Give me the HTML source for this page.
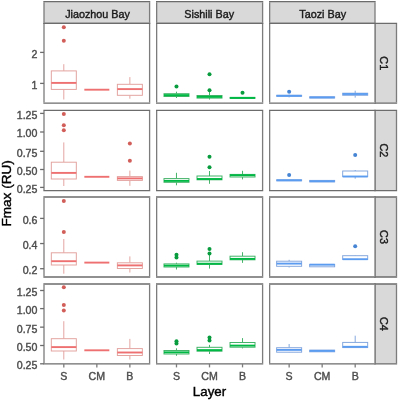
<!DOCTYPE html><html><head><meta charset="utf-8"><style>html,body{margin:0;padding:0;background:#fff;}svg{display:block;filter:blur(0.3px);}text{font-family:"Liberation Sans",sans-serif;stroke-width:0.4px;}</style></head><body>
<svg width="398" height="400" viewBox="0 0 398 400">
<rect width="398" height="400" fill="#fff"/>
<rect x="44" y="1.7" width="105.6" height="21.6" fill="#D9D9D9"/><path d="M43.35 1.7H150.25M43.35 23.3H150.25" stroke="#6c6c6c" stroke-width="1.3" fill="none"/><path d="M44 2.35V22.65M149.6 2.35V22.65" stroke="#7c7c7c" stroke-width="1.3" fill="none"/>
<rect x="156.65" y="1.7" width="105.95" height="21.6" fill="#D9D9D9"/><path d="M156 1.7H263.25M156 23.3H263.25" stroke="#6c6c6c" stroke-width="1.3" fill="none"/><path d="M156.65 2.35V22.65M262.6 2.35V22.65" stroke="#7c7c7c" stroke-width="1.3" fill="none"/>
<rect x="269.65" y="1.7" width="105.35" height="21.6" fill="#D9D9D9"/><path d="M269 1.7H375.65M269 23.3H375.65" stroke="#6c6c6c" stroke-width="1.3" fill="none"/><path d="M269.65 2.35V22.65M375 2.35V22.65" stroke="#7c7c7c" stroke-width="1.3" fill="none"/>
<text x="97.54" y="18.0" font-size="10.8" fill="#1A1A1A" stroke="#1A1A1A" text-anchor="middle">Jiaozhou Bay</text>
<text x="209.2" y="18.0" font-size="10.8" fill="#1A1A1A" stroke="#1A1A1A" text-anchor="middle">Sishili Bay</text>
<text x="322.66" y="18.0" font-size="10.8" fill="#1A1A1A" stroke="#1A1A1A" text-anchor="middle">Taozi Bay</text>
<rect x="375" y="23.3" width="21.5" height="79.9" fill="#D9D9D9"/><path d="M374.35 23.3H397.15M374.35 103.2H397.15" stroke="#6c6c6c" stroke-width="1.3" fill="none"/><path d="M375 23.95V102.55M396.5 23.95V102.55" stroke="#7c7c7c" stroke-width="1.3" fill="none"/>
<text transform="translate(380.0,63.25) rotate(90)" x="0" y="0" font-size="10.8" fill="#1A1A1A" stroke="#1A1A1A" text-anchor="middle">C1</text>
<rect x="375" y="110.35" width="21.5" height="80.2" fill="#D9D9D9"/><path d="M374.35 110.35H397.15M374.35 190.55H397.15" stroke="#6c6c6c" stroke-width="1.3" fill="none"/><path d="M375 111V189.9M396.5 111V189.9" stroke="#7c7c7c" stroke-width="1.3" fill="none"/>
<text transform="translate(380.0,150.45) rotate(90)" x="0" y="0" font-size="10.8" fill="#1A1A1A" stroke="#1A1A1A" text-anchor="middle">C2</text>
<rect x="375" y="197" width="21.5" height="80" fill="#D9D9D9"/><path d="M374.35 197H397.15M374.35 277H397.15" stroke="#6c6c6c" stroke-width="1.3" fill="none"/><path d="M375 197.65V276.35M396.5 197.65V276.35" stroke="#7c7c7c" stroke-width="1.3" fill="none"/>
<text transform="translate(380.0,237) rotate(90)" x="0" y="0" font-size="10.8" fill="#1A1A1A" stroke="#1A1A1A" text-anchor="middle">C3</text>
<rect x="375" y="284" width="21.5" height="79.9" fill="#D9D9D9"/><path d="M374.35 284H397.15M374.35 363.9H397.15" stroke="#6c6c6c" stroke-width="1.3" fill="none"/><path d="M375 284.65V363.25M396.5 284.65V363.25" stroke="#7c7c7c" stroke-width="1.3" fill="none"/>
<text transform="translate(380.0,323.95) rotate(90)" x="0" y="0" font-size="10.8" fill="#1A1A1A" stroke="#1A1A1A" text-anchor="middle">C4</text>
<rect x="44" y="23.3" width="105.6" height="79.9" fill="#fff"/>
<g stroke="#E2A09C" stroke-width="0.95" fill="none"><line x1="63.81" y1="64.2" x2="63.81" y2="70.9"/><line x1="63.81" y1="89.4" x2="63.81" y2="99.5"/><rect x="51.31" y="70.9" width="25" height="18.5" fill="#fff"/></g>
<line x1="51.31" y1="82.9" x2="76.31" y2="82.9" stroke="#EE7070" stroke-width="1.9"/>
<circle cx="63.81" cy="27.2" r="2.0" fill="#D25E5A"/>
<circle cx="63.81" cy="40.8" r="2.0" fill="#D25E5A"/>
<g stroke="#E2A09C" stroke-width="0.95" fill="none"></g>
<line x1="84.34" y1="89.7" x2="109.34" y2="89.7" stroke="#EE7070" stroke-width="1.9"/>
<g stroke="#E2A09C" stroke-width="0.95" fill="none"><line x1="129.86" y1="77.1" x2="129.86" y2="84.3"/><line x1="129.86" y1="95.3" x2="129.86" y2="98.7"/><rect x="117.36" y="84.3" width="25" height="11" fill="#fff"/></g>
<line x1="117.36" y1="89.1" x2="142.36" y2="89.1" stroke="#EE7070" stroke-width="1.9"/>
<path d="M43.35 23.3H150.25M43.35 103.2H150.25" stroke="#6c6c6c" stroke-width="1.3" fill="none"/><path d="M44 23.95V102.55M149.6 23.95V102.55" stroke="#7c7c7c" stroke-width="1.3" fill="none"/>
<rect x="156.65" y="23.3" width="105.95" height="79.9" fill="#fff"/>
<g stroke="#3CB062" stroke-width="0.95" fill="none"><line x1="176.48" y1="91.7" x2="176.48" y2="93.7"/><line x1="176.48" y1="96.5" x2="176.48" y2="98"/><rect x="163.98" y="93.7" width="25" height="2.8" fill="#fff"/></g>
<line x1="163.98" y1="95.1" x2="188.98" y2="95.1" stroke="#00B844" stroke-width="1.9"/>
<circle cx="176.48" cy="86.6" r="2.0" fill="#089C3E"/>
<g stroke="#3CB062" stroke-width="0.95" fill="none"><line x1="209.5" y1="91.9" x2="209.5" y2="95.5"/><line x1="209.5" y1="98.1" x2="209.5" y2="99.5"/><rect x="197" y="95.5" width="25" height="2.6" fill="#fff"/></g>
<line x1="197" y1="96.9" x2="222" y2="96.9" stroke="#00B844" stroke-width="1.9"/>
<circle cx="209.5" cy="74.3" r="2.0" fill="#089C3E"/>
<circle cx="209.5" cy="90.3" r="2.0" fill="#089C3E"/>
<g stroke="#3CB062" stroke-width="0.95" fill="none"><rect x="230.03" y="97.4" width="25" height="1" fill="#fff"/></g>
<line x1="230.03" y1="97.9" x2="255.03" y2="97.9" stroke="#00B844" stroke-width="1.9"/>
<circle cx="242.53" cy="92.7" r="2.0" fill="#089C3E"/>
<path d="M156 23.3H263.25M156 103.2H263.25" stroke="#6c6c6c" stroke-width="1.3" fill="none"/><path d="M156.65 23.95V102.55M262.6 23.95V102.55" stroke="#7c7c7c" stroke-width="1.3" fill="none"/>
<rect x="269.65" y="23.3" width="105.35" height="79.9" fill="#fff"/>
<g stroke="#80A4DC" stroke-width="0.95" fill="none"><line x1="289.14" y1="94.6" x2="289.14" y2="95.3"/><line x1="289.14" y1="96.3" x2="289.14" y2="97.4"/><rect x="276.64" y="95.3" width="25" height="1" fill="#fff"/></g>
<line x1="276.64" y1="95.8" x2="301.64" y2="95.8" stroke="#5C9CF0" stroke-width="1.9"/>
<circle cx="289.14" cy="91.8" r="2.0" fill="#4684D4"/>
<g stroke="#80A4DC" stroke-width="0.95" fill="none"><rect x="309.66" y="96.8" width="25" height="1.2" fill="#fff"/></g>
<line x1="309.66" y1="97.4" x2="334.66" y2="97.4" stroke="#5C9CF0" stroke-width="1.9"/>
<g stroke="#80A4DC" stroke-width="0.95" fill="none"><line x1="355.19" y1="90.7" x2="355.19" y2="93.2"/><line x1="355.19" y1="95.3" x2="355.19" y2="97.6"/><rect x="342.69" y="93.2" width="25" height="2.1" fill="#fff"/></g>
<line x1="342.69" y1="94" x2="367.69" y2="94" stroke="#5C9CF0" stroke-width="1.9"/>
<path d="M269 23.3H375.65M269 103.2H375.65" stroke="#6c6c6c" stroke-width="1.3" fill="none"/><path d="M269.65 23.95V102.55M375 23.95V102.55" stroke="#7c7c7c" stroke-width="1.3" fill="none"/>
<rect x="44" y="110.35" width="105.6" height="80.2" fill="#fff"/>
<g stroke="#E2A09C" stroke-width="0.95" fill="none"><line x1="63.81" y1="142.4" x2="63.81" y2="162.2"/><line x1="63.81" y1="179" x2="63.81" y2="186"/><rect x="51.31" y="162.2" width="25" height="16.8" fill="#fff"/></g>
<line x1="51.31" y1="172.9" x2="76.31" y2="172.9" stroke="#EE7070" stroke-width="1.9"/>
<circle cx="63.81" cy="114" r="2.0" fill="#D25E5A"/>
<circle cx="63.81" cy="125.3" r="2.0" fill="#D25E5A"/>
<circle cx="63.81" cy="130.3" r="2.0" fill="#D25E5A"/>
<g stroke="#E2A09C" stroke-width="0.95" fill="none"></g>
<line x1="84.34" y1="176.8" x2="109.34" y2="176.8" stroke="#EE7070" stroke-width="1.9"/>
<g stroke="#E2A09C" stroke-width="0.95" fill="none"><line x1="129.86" y1="170.6" x2="129.86" y2="176.6"/><line x1="129.86" y1="180.4" x2="129.86" y2="185.8"/><rect x="117.36" y="176.6" width="25" height="3.8" fill="#fff"/></g>
<line x1="117.36" y1="178.4" x2="142.36" y2="178.4" stroke="#EE7070" stroke-width="1.9"/>
<circle cx="129.86" cy="143.6" r="2.0" fill="#D25E5A"/>
<circle cx="129.86" cy="160.7" r="2.0" fill="#D25E5A"/>
<path d="M43.35 110.35H150.25M43.35 190.55H150.25" stroke="#6c6c6c" stroke-width="1.3" fill="none"/><path d="M44 111V189.9M149.6 111V189.9" stroke="#7c7c7c" stroke-width="1.3" fill="none"/>
<rect x="156.65" y="110.35" width="105.95" height="80.2" fill="#fff"/>
<g stroke="#3CB062" stroke-width="0.95" fill="none"><line x1="176.48" y1="172.8" x2="176.48" y2="178.6"/><line x1="176.48" y1="182.3" x2="176.48" y2="185.3"/><rect x="163.98" y="178.6" width="25" height="3.7" fill="#fff"/></g>
<line x1="163.98" y1="180.9" x2="188.98" y2="180.9" stroke="#00B844" stroke-width="1.9"/>
<g stroke="#3CB062" stroke-width="0.95" fill="none"><line x1="209.5" y1="171" x2="209.5" y2="176"/><line x1="209.5" y1="179.8" x2="209.5" y2="183.8"/><rect x="197" y="176" width="25" height="3.8" fill="#fff"/></g>
<line x1="197" y1="179" x2="222" y2="179" stroke="#00B844" stroke-width="1.9"/>
<circle cx="209.5" cy="156.8" r="2.0" fill="#089C3E"/>
<circle cx="209.5" cy="167.2" r="2.0" fill="#089C3E"/>
<g stroke="#3CB062" stroke-width="0.95" fill="none"><line x1="242.53" y1="170.8" x2="242.53" y2="174.4"/><line x1="242.53" y1="177" x2="242.53" y2="179.4"/><rect x="230.03" y="174.4" width="25" height="2.6" fill="#fff"/></g>
<line x1="230.03" y1="175.2" x2="255.03" y2="175.2" stroke="#00B844" stroke-width="1.9"/>
<path d="M156 110.35H263.25M156 190.55H263.25" stroke="#6c6c6c" stroke-width="1.3" fill="none"/><path d="M156.65 111V189.9M262.6 111V189.9" stroke="#7c7c7c" stroke-width="1.3" fill="none"/>
<rect x="269.65" y="110.35" width="105.35" height="80.2" fill="#fff"/>
<g stroke="#80A4DC" stroke-width="0.95" fill="none"><rect x="276.64" y="179.8" width="25" height="1" fill="#fff"/></g>
<line x1="276.64" y1="180.3" x2="301.64" y2="180.3" stroke="#5C9CF0" stroke-width="1.9"/>
<circle cx="289.14" cy="174.9" r="2.0" fill="#4684D4"/>
<g stroke="#80A4DC" stroke-width="0.95" fill="none"><rect x="309.66" y="180.4" width="25" height="1.5" fill="#fff"/></g>
<line x1="309.66" y1="181.2" x2="334.66" y2="181.2" stroke="#5C9CF0" stroke-width="1.9"/>
<g stroke="#80A4DC" stroke-width="0.95" fill="none"><line x1="355.19" y1="170" x2="355.19" y2="171"/><line x1="355.19" y1="176.6" x2="355.19" y2="178.7"/><rect x="342.69" y="171" width="25" height="5.6" fill="#fff"/></g>
<line x1="342.69" y1="176.5" x2="367.69" y2="176.5" stroke="#5C9CF0" stroke-width="1.9"/>
<circle cx="355.19" cy="154.9" r="2.0" fill="#4684D4"/>
<path d="M269 110.35H375.65M269 190.55H375.65" stroke="#6c6c6c" stroke-width="1.3" fill="none"/><path d="M269.65 111V189.9M375 111V189.9" stroke="#7c7c7c" stroke-width="1.3" fill="none"/>
<rect x="44" y="197" width="105.6" height="80" fill="#fff"/>
<g stroke="#E2A09C" stroke-width="0.95" fill="none"><line x1="63.81" y1="239" x2="63.81" y2="252.8"/><line x1="63.81" y1="265" x2="63.81" y2="273.7"/><rect x="51.31" y="252.8" width="25" height="12.2" fill="#fff"/></g>
<line x1="51.31" y1="261.2" x2="76.31" y2="261.2" stroke="#EE7070" stroke-width="1.9"/>
<circle cx="63.81" cy="201" r="2.0" fill="#D25E5A"/>
<circle cx="63.81" cy="232" r="2.0" fill="#D25E5A"/>
<g stroke="#E2A09C" stroke-width="0.95" fill="none"></g>
<line x1="84.34" y1="262.6" x2="109.34" y2="262.6" stroke="#EE7070" stroke-width="1.9"/>
<g stroke="#E2A09C" stroke-width="0.95" fill="none"><line x1="129.86" y1="256.4" x2="129.86" y2="262.8"/><line x1="129.86" y1="268.5" x2="129.86" y2="272.5"/><rect x="117.36" y="262.8" width="25" height="5.7" fill="#fff"/></g>
<line x1="117.36" y1="265.4" x2="142.36" y2="265.4" stroke="#EE7070" stroke-width="1.9"/>
<path d="M43.35 197H150.25M43.35 277H150.25" stroke="#6c6c6c" stroke-width="1.3" fill="none"/><path d="M44 197.65V276.35M149.6 197.65V276.35" stroke="#7c7c7c" stroke-width="1.3" fill="none"/>
<rect x="156.65" y="197" width="105.95" height="80" fill="#fff"/>
<g stroke="#3CB062" stroke-width="0.95" fill="none"><line x1="176.48" y1="262.7" x2="176.48" y2="263.9"/><line x1="176.48" y1="267" x2="176.48" y2="269.5"/><rect x="163.98" y="263.9" width="25" height="3.1" fill="#fff"/></g>
<line x1="163.98" y1="265.6" x2="188.98" y2="265.6" stroke="#00B844" stroke-width="1.9"/>
<circle cx="176.48" cy="254.7" r="2.0" fill="#089C3E"/>
<circle cx="176.48" cy="257.6" r="2.0" fill="#089C3E"/>
<g stroke="#3CB062" stroke-width="0.95" fill="none"><line x1="209.5" y1="255" x2="209.5" y2="261.1"/><line x1="209.5" y1="264.4" x2="209.5" y2="268.6"/><rect x="197" y="261.1" width="25" height="3.3" fill="#fff"/></g>
<line x1="197" y1="263.7" x2="222" y2="263.7" stroke="#00B844" stroke-width="1.9"/>
<circle cx="209.5" cy="249.1" r="2.0" fill="#089C3E"/>
<circle cx="209.5" cy="253.4" r="2.0" fill="#089C3E"/>
<g stroke="#3CB062" stroke-width="0.95" fill="none"><line x1="242.53" y1="252.2" x2="242.53" y2="256.2"/><line x1="242.53" y1="259.8" x2="242.53" y2="262.9"/><rect x="230.03" y="256.2" width="25" height="3.6" fill="#fff"/></g>
<line x1="230.03" y1="258.9" x2="255.03" y2="258.9" stroke="#00B844" stroke-width="1.9"/>
<path d="M156 197H263.25M156 277H263.25" stroke="#6c6c6c" stroke-width="1.3" fill="none"/><path d="M156.65 197.65V276.35M262.6 197.65V276.35" stroke="#7c7c7c" stroke-width="1.3" fill="none"/>
<rect x="269.65" y="197" width="105.35" height="80" fill="#fff"/>
<g stroke="#80A4DC" stroke-width="0.95" fill="none"><line x1="289.14" y1="259.8" x2="289.14" y2="261.2"/><line x1="289.14" y1="266.3" x2="289.14" y2="267.5"/><rect x="276.64" y="261.2" width="25" height="5.1" fill="#fff"/></g>
<line x1="276.64" y1="263.6" x2="301.64" y2="263.6" stroke="#5C9CF0" stroke-width="1.9"/>
<g stroke="#80A4DC" stroke-width="0.95" fill="none"><rect x="309.66" y="264.4" width="25" height="2.4" fill="#fff"/></g>
<line x1="309.66" y1="264.7" x2="334.66" y2="264.7" stroke="#5C9CF0" stroke-width="1.9"/>
<g stroke="#80A4DC" stroke-width="0.95" fill="none"><line x1="355.19" y1="255.3" x2="355.19" y2="255.7"/><line x1="355.19" y1="259.5" x2="355.19" y2="259.9"/><rect x="342.69" y="255.7" width="25" height="3.8" fill="#fff"/></g>
<line x1="342.69" y1="259.2" x2="367.69" y2="259.2" stroke="#5C9CF0" stroke-width="1.9"/>
<circle cx="355.19" cy="246.3" r="2.0" fill="#4684D4"/>
<path d="M269 197H375.65M269 277H375.65" stroke="#6c6c6c" stroke-width="1.3" fill="none"/><path d="M269.65 197.65V276.35M375 197.65V276.35" stroke="#7c7c7c" stroke-width="1.3" fill="none"/>
<rect x="44" y="284" width="105.6" height="79.9" fill="#fff"/>
<g stroke="#E2A09C" stroke-width="0.95" fill="none"><line x1="63.81" y1="321.2" x2="63.81" y2="338.7"/><line x1="63.81" y1="351" x2="63.81" y2="359.5"/><rect x="51.31" y="338.7" width="25" height="12.3" fill="#fff"/></g>
<line x1="51.31" y1="347.1" x2="76.31" y2="347.1" stroke="#EE7070" stroke-width="1.9"/>
<circle cx="63.81" cy="287.3" r="2.0" fill="#D25E5A"/>
<circle cx="63.81" cy="304.9" r="2.0" fill="#D25E5A"/>
<circle cx="63.81" cy="310.4" r="2.0" fill="#D25E5A"/>
<g stroke="#E2A09C" stroke-width="0.95" fill="none"></g>
<line x1="84.34" y1="350.3" x2="109.34" y2="350.3" stroke="#EE7070" stroke-width="1.9"/>
<g stroke="#E2A09C" stroke-width="0.95" fill="none"><line x1="129.86" y1="338.9" x2="129.86" y2="348.6"/><line x1="129.86" y1="355.5" x2="129.86" y2="359.5"/><rect x="117.36" y="348.6" width="25" height="6.9" fill="#fff"/></g>
<line x1="117.36" y1="352.5" x2="142.36" y2="352.5" stroke="#EE7070" stroke-width="1.9"/>
<path d="M43.35 284H150.25M43.35 363.9H150.25" stroke="#6c6c6c" stroke-width="1.3" fill="none"/><path d="M44 284.65V363.25M149.6 284.65V363.25" stroke="#7c7c7c" stroke-width="1.3" fill="none"/>
<rect x="156.65" y="284" width="105.95" height="79.9" fill="#fff"/>
<g stroke="#3CB062" stroke-width="0.95" fill="none"><line x1="176.48" y1="348.3" x2="176.48" y2="350.5"/><line x1="176.48" y1="354" x2="176.48" y2="355.8"/><rect x="163.98" y="350.5" width="25" height="3.5" fill="#fff"/></g>
<line x1="163.98" y1="352.3" x2="188.98" y2="352.3" stroke="#00B844" stroke-width="1.9"/>
<circle cx="176.48" cy="341.2" r="2.0" fill="#089C3E"/>
<circle cx="176.48" cy="343.4" r="2.0" fill="#089C3E"/>
<g stroke="#3CB062" stroke-width="0.95" fill="none"><line x1="209.5" y1="344.9" x2="209.5" y2="347.3"/><line x1="209.5" y1="351.2" x2="209.5" y2="354"/><rect x="197" y="347.3" width="25" height="3.9" fill="#fff"/></g>
<line x1="197" y1="350.1" x2="222" y2="350.1" stroke="#00B844" stroke-width="1.9"/>
<circle cx="209.5" cy="337.5" r="2.0" fill="#089C3E"/>
<circle cx="209.5" cy="340.4" r="2.0" fill="#089C3E"/>
<g stroke="#3CB062" stroke-width="0.95" fill="none"><line x1="242.53" y1="338.1" x2="242.53" y2="342.5"/><line x1="242.53" y1="347.2" x2="242.53" y2="348.4"/><rect x="230.03" y="342.5" width="25" height="4.7" fill="#fff"/></g>
<line x1="230.03" y1="345.6" x2="255.03" y2="345.6" stroke="#00B844" stroke-width="1.9"/>
<path d="M156 284H263.25M156 363.9H263.25" stroke="#6c6c6c" stroke-width="1.3" fill="none"/><path d="M156.65 284.65V363.25M262.6 284.65V363.25" stroke="#7c7c7c" stroke-width="1.3" fill="none"/>
<rect x="269.65" y="284" width="105.35" height="79.9" fill="#fff"/>
<g stroke="#80A4DC" stroke-width="0.95" fill="none"><line x1="289.14" y1="344" x2="289.14" y2="347.7"/><line x1="289.14" y1="352.2" x2="289.14" y2="352.4"/><rect x="276.64" y="347.7" width="25" height="4.5" fill="#fff"/></g>
<line x1="276.64" y1="349.9" x2="301.64" y2="349.9" stroke="#5C9CF0" stroke-width="1.9"/>
<g stroke="#80A4DC" stroke-width="0.95" fill="none"><rect x="309.66" y="350.1" width="25" height="1.7" fill="#fff"/></g>
<line x1="309.66" y1="350.9" x2="334.66" y2="350.9" stroke="#5C9CF0" stroke-width="1.9"/>
<g stroke="#80A4DC" stroke-width="0.95" fill="none"><line x1="355.19" y1="335.7" x2="355.19" y2="342.4"/><line x1="355.19" y1="347.6" x2="355.19" y2="347.9"/><rect x="342.69" y="342.4" width="25" height="5.2" fill="#fff"/></g>
<line x1="342.69" y1="346.8" x2="367.69" y2="346.8" stroke="#5C9CF0" stroke-width="1.9"/>
<path d="M269 284H375.65M269 363.9H375.65" stroke="#6c6c6c" stroke-width="1.3" fill="none"/><path d="M269.65 284.65V363.25M375 284.65V363.25" stroke="#7c7c7c" stroke-width="1.3" fill="none"/>
<line x1="40.1" y1="52.4" x2="44" y2="52.4" stroke="#6c6c6c" stroke-width="1.3"/>
<text x="37.4" y="57.8" font-size="10.6" fill="#4D4D4D" stroke="#4D4D4D" text-anchor="end">2</text>
<line x1="40.1" y1="83.4" x2="44" y2="83.4" stroke="#6c6c6c" stroke-width="1.3"/>
<text x="37.4" y="88.8" font-size="10.6" fill="#4D4D4D" stroke="#4D4D4D" text-anchor="end">1</text>
<line x1="40.1" y1="113.4" x2="44" y2="113.4" stroke="#6c6c6c" stroke-width="1.3"/>
<text x="37.4" y="118.8" font-size="10.6" fill="#4D4D4D" stroke="#4D4D4D" text-anchor="end">1.25</text>
<line x1="40.1" y1="132" x2="44" y2="132" stroke="#6c6c6c" stroke-width="1.3"/>
<text x="37.4" y="137.4" font-size="10.6" fill="#4D4D4D" stroke="#4D4D4D" text-anchor="end">1.00</text>
<line x1="40.1" y1="151.3" x2="44" y2="151.3" stroke="#6c6c6c" stroke-width="1.3"/>
<text x="37.4" y="156.7" font-size="10.6" fill="#4D4D4D" stroke="#4D4D4D" text-anchor="end">0.75</text>
<line x1="40.1" y1="169.5" x2="44" y2="169.5" stroke="#6c6c6c" stroke-width="1.3"/>
<text x="37.4" y="174.9" font-size="10.6" fill="#4D4D4D" stroke="#4D4D4D" text-anchor="end">0.50</text>
<line x1="40.1" y1="187.4" x2="44" y2="187.4" stroke="#6c6c6c" stroke-width="1.3"/>
<text x="37.4" y="192.8" font-size="10.6" fill="#4D4D4D" stroke="#4D4D4D" text-anchor="end">0.25</text>
<line x1="40.1" y1="218.4" x2="44" y2="218.4" stroke="#6c6c6c" stroke-width="1.3"/>
<text x="37.4" y="223.8" font-size="10.6" fill="#4D4D4D" stroke="#4D4D4D" text-anchor="end">0.6</text>
<line x1="40.1" y1="243.55" x2="44" y2="243.55" stroke="#6c6c6c" stroke-width="1.3"/>
<text x="37.4" y="248.95" font-size="10.6" fill="#4D4D4D" stroke="#4D4D4D" text-anchor="end">0.4</text>
<line x1="40.1" y1="268.7" x2="44" y2="268.7" stroke="#6c6c6c" stroke-width="1.3"/>
<text x="37.4" y="274.1" font-size="10.6" fill="#4D4D4D" stroke="#4D4D4D" text-anchor="end">0.2</text>
<line x1="40.1" y1="290.5" x2="44" y2="290.5" stroke="#6c6c6c" stroke-width="1.3"/>
<text x="37.4" y="295.9" font-size="10.6" fill="#4D4D4D" stroke="#4D4D4D" text-anchor="end">1.25</text>
<line x1="40.1" y1="308.6" x2="44" y2="308.6" stroke="#6c6c6c" stroke-width="1.3"/>
<text x="37.4" y="314" font-size="10.6" fill="#4D4D4D" stroke="#4D4D4D" text-anchor="end">1.00</text>
<line x1="40.1" y1="327.15" x2="44" y2="327.15" stroke="#6c6c6c" stroke-width="1.3"/>
<text x="37.4" y="332.55" font-size="10.6" fill="#4D4D4D" stroke="#4D4D4D" text-anchor="end">0.75</text>
<line x1="40.1" y1="345.5" x2="44" y2="345.5" stroke="#6c6c6c" stroke-width="1.3"/>
<text x="37.4" y="350.9" font-size="10.6" fill="#4D4D4D" stroke="#4D4D4D" text-anchor="end">0.50</text>
<line x1="40.1" y1="363.8" x2="44" y2="363.8" stroke="#6c6c6c" stroke-width="1.3"/>
<text x="37.4" y="369.2" font-size="10.6" fill="#4D4D4D" stroke="#4D4D4D" text-anchor="end">0.25</text>
<line x1="63.81" y1="363.9" x2="63.81" y2="367.4" stroke="#7c7c7c" stroke-width="1.3"/>
<text x="63.81" y="380.3" font-size="10.6" fill="#4D4D4D" stroke="#4D4D4D" text-anchor="middle">S</text>
<line x1="96.84" y1="363.9" x2="96.84" y2="367.4" stroke="#7c7c7c" stroke-width="1.3"/>
<text x="96.84" y="380.3" font-size="10.6" fill="#4D4D4D" stroke="#4D4D4D" text-anchor="middle">CM</text>
<line x1="129.86" y1="363.9" x2="129.86" y2="367.4" stroke="#7c7c7c" stroke-width="1.3"/>
<text x="129.86" y="380.3" font-size="10.6" fill="#4D4D4D" stroke="#4D4D4D" text-anchor="middle">B</text>
<line x1="176.48" y1="363.9" x2="176.48" y2="367.4" stroke="#7c7c7c" stroke-width="1.3"/>
<text x="176.48" y="380.3" font-size="10.6" fill="#4D4D4D" stroke="#4D4D4D" text-anchor="middle">S</text>
<line x1="209.5" y1="363.9" x2="209.5" y2="367.4" stroke="#7c7c7c" stroke-width="1.3"/>
<text x="209.5" y="380.3" font-size="10.6" fill="#4D4D4D" stroke="#4D4D4D" text-anchor="middle">CM</text>
<line x1="242.53" y1="363.9" x2="242.53" y2="367.4" stroke="#7c7c7c" stroke-width="1.3"/>
<text x="242.53" y="380.3" font-size="10.6" fill="#4D4D4D" stroke="#4D4D4D" text-anchor="middle">B</text>
<line x1="289.14" y1="363.9" x2="289.14" y2="367.4" stroke="#7c7c7c" stroke-width="1.3"/>
<text x="289.14" y="380.3" font-size="10.6" fill="#4D4D4D" stroke="#4D4D4D" text-anchor="middle">S</text>
<line x1="322.16" y1="363.9" x2="322.16" y2="367.4" stroke="#7c7c7c" stroke-width="1.3"/>
<text x="322.16" y="380.3" font-size="10.6" fill="#4D4D4D" stroke="#4D4D4D" text-anchor="middle">CM</text>
<line x1="355.19" y1="363.9" x2="355.19" y2="367.4" stroke="#7c7c7c" stroke-width="1.3"/>
<text x="355.19" y="380.3" font-size="10.6" fill="#4D4D4D" stroke="#4D4D4D" text-anchor="middle">B</text>
<text x="209.5" y="395.6" font-size="13.3" fill="#000" stroke="#000" text-anchor="middle">Layer</text>
<text transform="translate(11.0,193.4) rotate(-90)" x="0" y="0" font-size="13.6" fill="#000" stroke="#000" text-anchor="middle">Fmax (RU)</text>
</svg></body></html>
